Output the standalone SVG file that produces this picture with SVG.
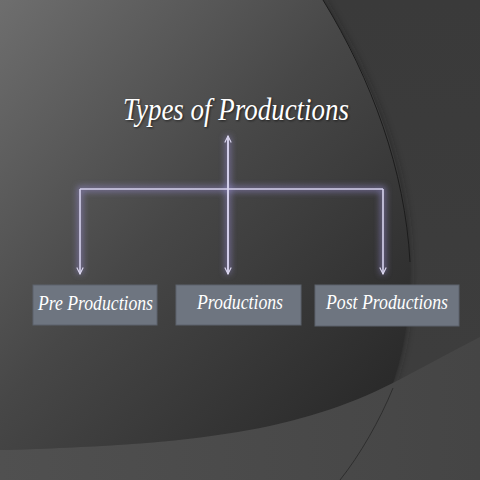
<svg xmlns="http://www.w3.org/2000/svg" width="480" height="480" viewBox="0 0 480 480">
<defs>
<linearGradient id="bgMain" x1="0" y1="0" x2="1" y2="1" gradientUnits="objectBoundingBox">
<stop offset="0" stop-color="#6e6e6e"/>
<stop offset="0.45" stop-color="#474747"/>
<stop offset="1" stop-color="#242424"/>
</linearGradient>
<linearGradient id="bgBand" x1="0" y1="0" x2="1" y2="0">
<stop offset="0" stop-color="#505050"/>
<stop offset="1" stop-color="#454545"/>
</linearGradient>
<linearGradient id="bgRight" x1="0" y1="0" x2="0" y2="1">
<stop offset="0" stop-color="#3a3a3a"/>
<stop offset="1" stop-color="#3e3e3e"/>
</linearGradient>
<filter id="glow" x="-50%" y="-50%" width="200%" height="200%">
<feGaussianBlur stdDeviation="3"/>
</filter>
<filter id="shadow" x="-10%" y="-10%" width="120%" height="120%">
<feGaussianBlur stdDeviation="4"/>
</filter>
<filter id="tshadow" x="-10%" y="-30%" width="120%" height="160%">
<feGaussianBlur stdDeviation="1.2"/>
</filter>
<marker id="ah" viewBox="0 0 10 10" refX="9" refY="5" markerWidth="8" markerHeight="8" markerUnits="userSpaceOnUse" orient="auto">
<path d="M1,1 L9,5 L1,9" fill="none" stroke="#dcd8f0" stroke-width="1.4"/>
</marker>
</defs>
<style>
.conn{fill:none;stroke:#d6d2ee;stroke-width:1.6}
.glow{fill:none;stroke:#9a90d8;stroke-width:5;opacity:0.6}
.box{fill:#6e7580;stroke:#5d636c;stroke-width:1}
.lbl{font-family:"Liberation Serif","Times New Roman",serif;font-style:italic;fill:#ffffff;font-size:20px;text-anchor:middle}
.title{font-family:"Liberation Serif","Times New Roman",serif;font-style:italic;fill:#ffffff;font-size:32px;text-anchor:middle}
</style>
<g id="background">
<rect x="0" y="0" width="480" height="480" fill="url(#bgRight)"/>
<path d="M0,0 L323,0 C372,80 410,170 410,270 C410,320 402,358 393,383 C300,430 200,445 0,450 Z" fill="#1e1e1e" filter="url(#shadow)" opacity="0.6"/>
<path d="M0,0 L323,0 C372,80 410,170 410,270 C410,320 402,358 393,383 C300,430 200,445 0,450 Z" fill="url(#bgMain)"/>
<path d="M0,450 C200,445 300,430 393,383 C425,366 455,350 480,337 L480,480 L0,480 Z" fill="url(#bgBand)"/>
<path d="M323,0 C372,80 405,170 410,262" fill="none" stroke="#1c1c1c" stroke-width="1"/>
<path d="M393,388 C380,420 360,455 340,480" fill="none" stroke="#2e2e2e" stroke-width="1"/>
</g>
<g id="title">
<text class="title" x="237" y="121" style="fill:#000;opacity:0.6" filter="url(#tshadow)" textLength="226" lengthAdjust="spacingAndGlyphs">Types of Productions</text>
<text class="title" x="236" y="120" textLength="226" lengthAdjust="spacingAndGlyphs">Types of Productions</text>
</g>
<g id="connectors">
<g filter="url(#glow)">
<path class="glow" d="M80,274 L80,189 L383,189 L383,274"/>
<path class="glow" d="M228,136 L228,274"/>
</g>
<path class="conn" d="M80,189 L383,189"/>
<path class="conn" d="M80,189 L80,274" marker-end="url(#ah)"/>
<path class="conn" d="M383,189 L383,274" marker-end="url(#ah)"/>
<path class="conn" d="M228,274 L228,136" marker-end="url(#ah)"/>
<path class="conn" d="M228,136 L228,274" marker-end="url(#ah)"/>
</g>
<g id="node-pre">
<rect class="box" x="33" y="285" width="124" height="40"/>
<text class="lbl" x="95.5" y="310" textLength="115" lengthAdjust="spacingAndGlyphs">Pre Productions</text>
</g>
<g id="node-productions">
<rect class="box" x="176" y="285" width="125" height="40"/>
<text class="lbl" x="240" y="309" textLength="86" lengthAdjust="spacingAndGlyphs">Productions</text>
</g>
<g id="node-post">
<rect class="box" x="315" y="285" width="144" height="41"/>
<text class="lbl" x="387" y="309" textLength="122" lengthAdjust="spacingAndGlyphs">Post Productions</text>
</g>
</svg>
